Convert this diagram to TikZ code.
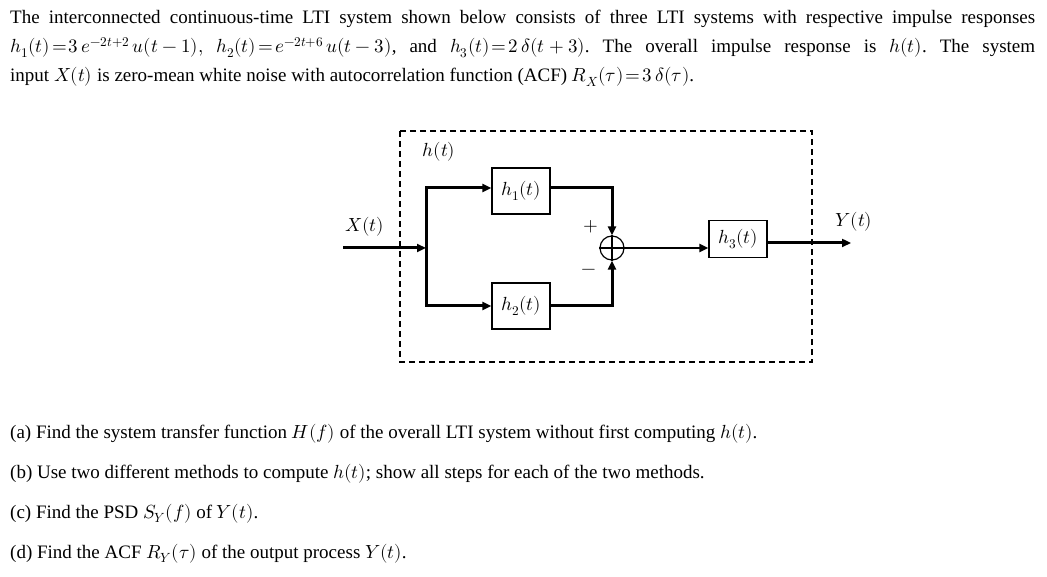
\documentclass[tikz,border=0pt]{standalone}
\usepackage{unicode-math}
\setmainfont{Liberation Serif}
\setmathfont{Latin Modern Math}
\usetikzlibrary{arrows.meta}
\begin{document}
\begin{tikzpicture}[x=1pt,y=-1pt,
  txt/.style={anchor=base west,inner sep=0pt,font=\fontsize{19}{22}\selectfont},
  blk/.style={draw,line width=1.2pt,minimum width=58pt,inner sep=0pt,font=\fontsize{19}{20}\selectfont},
  wire/.style={line width=3pt,-{Triangle[length=9pt,width=8pt]}},
  lbl/.style={font=\fontsize{19}{20}\selectfont,inner sep=0pt}]
\useasboundingbox (0,0) rectangle (1047,577);
\node[txt] (l1) at (10,24) {\makebox[1025pt][s]{The interconnected continuous-time LTI system shown below consists of three LTI systems with respective impulse responses}};
\node[txt] (l2) at (10,53) {\makebox[1025pt][s]{\hbox{$h_1(t)\!=\!3\,e^{-2t+2}\,u(t-1),$} \hbox{$h_2(t)\!=\!e^{-2t+6}\,u(t-3)$,} and \hbox{$h_3(t)\!=\!2\,\delta(t+3)$.} The overall impulse response is \hbox{$h(t)$.} The system}};
\node[txt] (l3) at (10,82) {input $X(t)$ is zero-mean white noise with autocorrelation function (ACF) $R_X(\tau)\!=\!3\,\delta(\tau)$.};
\node[txt] (qa) at (10,438) {(a) Find the system transfer function $H(f)$ of the overall LTI system without first computing $h(t)$.};
\node[txt] (qb) at (10,478) {(b) Use two different methods to compute $h(t)$; show all steps for each of the two methods.};
\node[txt] (qc) at (10,518) {(c) Find the PSD $S_Y(f)$ of $Y(t)$.};
\node[txt] (qd) at (10,558) {(d) Find the ACF $R_Y(\tau)$ of the output process $Y(t)$.};
% diagram
\draw[line width=1.4pt,dash pattern=on 6pt off 4pt] (400,131) rectangle (812,362);
\node[lbl] (ht) at (439,152) {$h(t)$};
\node[lbl] (xt) at (365,227) {$X(t)$};
\node[lbl] (yt) at (854,222) {$Y(t)$};
\node[blk,minimum height=46pt] (h1) at (521,191) {$h_1(t)$};
\node[blk,minimum height=46pt] (h2) at (521,306) {$h_2(t)$};
\node[blk,minimum height=37pt] (h3) at (738,239) {$h_3(t)$};
\node[draw,line width=1.2pt,circle,minimum size=24pt,inner sep=0pt] (s) at (612,248) {};
\draw[line width=1.2pt] (s.north)--(s.south) (s.west)--(s.east);
\node[lbl] (plus) at (591,227) {$+$};
\node[lbl] (minus) at (589,272) {$-$};
\coordinate (in) at (343,248);
\coordinate (br) at (426,248);
\coordinate (out) at (851,243);
\draw[wire] (in) -- (br);
\draw[wire] (br) |- (h1.west|-0,188);
\draw[wire] (br) |- (h2.west|-0,306);
\draw[wire] (h1.east|-0,188) -| (s.north);
\draw[wire] (h2.east|-0,306) -| (s.south);
\draw[line width=2pt,-{Triangle[length=9pt,width=8pt]}] (s.east) -- (h3.west|-0,248);
\draw[wire] (h3.east|-0,243) -- (out);
\end{tikzpicture}
\end{document}
